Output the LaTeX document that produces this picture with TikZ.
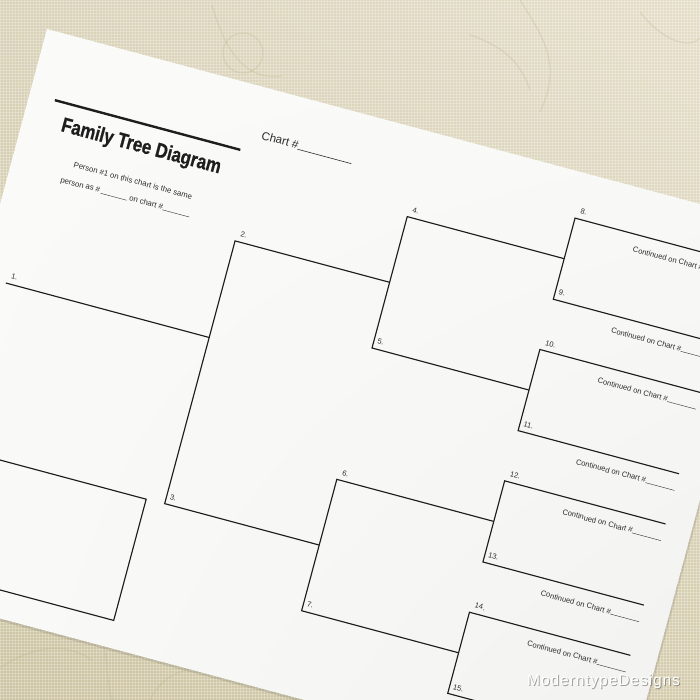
\documentclass[tikz,border=0pt]{standalone}
\usepackage{fontspec}
\setmainfont{Liberation Sans}
\newfontfamily\titlefont[FakeStretch=0.82, FakeBold=0.7]{Liberation Sans}
\newfontfamily\markfont[LetterSpace=6]{Liberation Sans}
\usetikzlibrary{patterns,shadings}

\definecolor{canvasA}{HTML}{D9D2B8}
\definecolor{canvasB}{HTML}{E4DEC9}
\definecolor{canvasC}{HTML}{CDC4A3}
\definecolor{canvasD}{HTML}{D5CCAD}
\definecolor{swirl}{HTML}{BFB48E}
\definecolor{sheetA}{HTML}{FAFAF9}
\definecolor{sheetB}{HTML}{F0F0EE}
\definecolor{ink}{HTML}{1E1E1E}
\definecolor{softink}{HTML}{2C2C2C}

\tikzset{
  tree/.style={ink, line width=1.15pt, line join=miter},
  titlebar/.style={ink, line width=2.4pt},
  num/.style={softink, font=\fontsize{7.5}{9}\selectfont, anchor=base west, inner sep=0pt, xshift=3.5pt, yshift=5.5pt},
  cont/.style={softink, font=\fontsize{7.6}{9}\selectfont, anchor=base east, inner sep=0pt, yshift=-17.5pt},
  note/.style={softink, font=\fontsize{7.8}{9}\selectfont, anchor=base west, inner sep=0pt},
  floral/.style={swirl, line width=1.2pt, opacity=0.3},
}

\begin{document}
\begin{tikzpicture}[x=1pt, y=1pt]
    \useasboundingbox (0,0) rectangle (700,-700);
    \clip (0,0) rectangle (700,-700);

    % Canvas background
    \shade[upper left=canvasA, upper right=canvasB, lower left=canvasC, lower right=canvasD] (0,0) rectangle (700,-700);
    \fill[pattern=grid, pattern color=white, opacity=0.25] (0,0) rectangle (700,-700);

    % Faint floral print on the cloth
    \draw[floral] (243,-53) circle (20);
    \draw[floral] (212,-5) .. controls (222,-40) and (240,-82) .. (282,-76);
    \draw[floral] (520,0) .. controls (545,-40) and (562,-65) .. (540,-112);
    \draw[floral] (470,-35) .. controls (500,-45) and (520,-60) .. (530,-90);
    \draw[floral] (640,-12) .. controls (662,-40) and (688,-50) .. (700,-38);
    \draw[floral] (0,-668) .. controls (30,-648) and (62,-640) .. (92,-660);
    \draw[floral] (112,-700) .. controls (104,-672) and (110,-650) .. (96,-626);
    \draw[floral] (150,-700) .. controls (160,-680) and (175,-670) .. (200,-668);

    % The sheet, lying at an angle
    \begin{scope}[shift={(47,-29)}, rotate=-15, y=-1pt, every node/.append style={transform shape}]
        % Shadow and paper
        \fill[black, opacity=0.10] (1.5,2.5) rectangle (754.5,584);
        \shade[upper left=sheetA, upper right=sheetA, lower left=sheetA, lower right=sheetB] (0,0) rectangle (752.5,581.5);

        % Heading
        \coordinate (tb1) at (26,66.7);
        \coordinate (tb2) at (218,66.7);
        \draw[titlebar] (tb1) -- (tb2);
        \node[anchor=base west, inner sep=0pt, text=ink, font=\titlefont\bfseries\fontsize{20.5}{24}\selectfont] (title) at (39,95) {Family Tree Diagram};
        \node[anchor=base west, inner sep=0pt, text=softink, font=\fontsize{11.5}{13}\selectfont] (chart) at (235,51) {Chart \#\rule[-0.6pt]{56pt}{0.6pt}};
        \node[note] (note1) at (61,127) {Person \#1 on this chart is the same};
        \node[note] (note2) at (52,144.5) {person as \#\,\rule[-0.5pt]{27pt}{0.4pt} on chart \#\rule[-0.5pt]{28pt}{0.4pt}};

        % Person 1
        \coordinate (p1) at (26,256);
        \coordinate (j1) at (236.5,256);
        % Parents
        \coordinate (p2) at (236.5,156);
        \coordinate (p3) at (236.5,428);
        \coordinate (j2) at (396.5,156);
        \coordinate (j3) at (396.5,428);
        % Grandparents
        \coordinate (p4) at (396.5,88);
        \coordinate (p5) at (396.5,224);
        \coordinate (p6) at (396.5,360);
        \coordinate (p7) at (396.5,496);
        \coordinate (j4) at (559,88);
        \coordinate (j5) at (559,224);
        \coordinate (j6) at (559,360);
        \coordinate (j7) at (559,496);
        % Great-grandparents
        \coordinate (p8) at (559,46);
        \coordinate (p9) at (559,130);
        \coordinate (p10) at (559,182);
        \coordinate (p11) at (559,266);
        \coordinate (p12) at (559,318);
        \coordinate (p13) at (559,402);
        \coordinate (p14) at (559,454);
        \coordinate (p15) at (559,538);
        \coordinate (e8) at (725.6,46);
        \coordinate (e9) at (725.6,130);
        \coordinate (e10) at (725.6,182);
        \coordinate (e11) at (725.6,266);
        \coordinate (e12) at (725.6,318);
        \coordinate (e13) at (725.6,402);
        \coordinate (e14) at (725.6,454);
        \coordinate (e15) at (725.6,538);

        % Brackets
        \draw[tree] (p1) -- (j1);
        \draw[tree] (j2) -- (p2) -- (p3) -- (j3);
        \draw[tree] (j4) -- (p4) -- (p5) -- (j5);
        \draw[tree] (j6) -- (p6) -- (p7) -- (j7);
        \draw[tree] (e8) -- (p8) -- (p9) -- (e9);
        \draw[tree] (e10) -- (p10) -- (p11) -- (e11);
        \draw[tree] (e12) -- (p12) -- (p13) -- (e13);
        \draw[tree] (e14) -- (p14) -- (p15) -- (e15);

        % Notes box under person 1
        \draw[tree] (26,428.5) rectangle (217.5,554);

        % Numbers
        \node[num] (n1) at (p1) {1.};
        \node[num] (n2) at (p2) {2.};
        \node[num] (n3) at (p3) {3.};
        \node[num] (n4) at (p4) {4.};
        \node[num] (n5) at (p5) {5.};
        \node[num] (n6) at (p6) {6.};
        \node[num] (n7) at (p7) {7.};
        \node[num] (n8) at (p8) {8.};
        \node[num] (n9) at (p9) {9.};
        \node[num] (n10) at (p10) {10.};
        \node[num] (n11) at (p11) {11.};
        \node[num] (n12) at (p12) {12.};
        \node[num] (n13) at (p13) {13.};
        \node[num] (n14) at (p14) {14.};
        \node[num] (n15) at (p15) {15.};

        % Continued on other charts
        \node[cont] (c8) at (e8) {Continued on Chart \#\rule{30pt}{0.4pt}};
        \node[cont] (c9) at (e9) {Continued on Chart \#\rule{30pt}{0.4pt}};
        \node[cont] (c10) at (e10) {Continued on Chart \#\rule{30pt}{0.4pt}};
        \node[cont] (c11) at (e11) {Continued on Chart \#\rule{30pt}{0.4pt}};
        \node[cont] (c12) at (e12) {Continued on Chart \#\rule{30pt}{0.4pt}};
        \node[cont] (c13) at (e13) {Continued on Chart \#\rule{30pt}{0.4pt}};
        \node[cont] (c14) at (e14) {Continued on Chart \#\rule{30pt}{0.4pt}};
        \node[cont] (c15) at (e15) {Continued on Chart \#\rule{30pt}{0.4pt}};
    \end{scope}

    % Watermark
    \node[anchor=base west, inner sep=0pt, text=black!70, opacity=0.5, font=\markfont\fontsize{15.5}{18}\selectfont] (markshadow) at (528,-686) {ModerntypeDesigns};
    \node[anchor=base west, inner sep=0pt, text=white, font=\markfont\fontsize{15.5}{18}\selectfont] (mark) at (527,-685) {ModerntypeDesigns};
\end{tikzpicture}
\end{document}
